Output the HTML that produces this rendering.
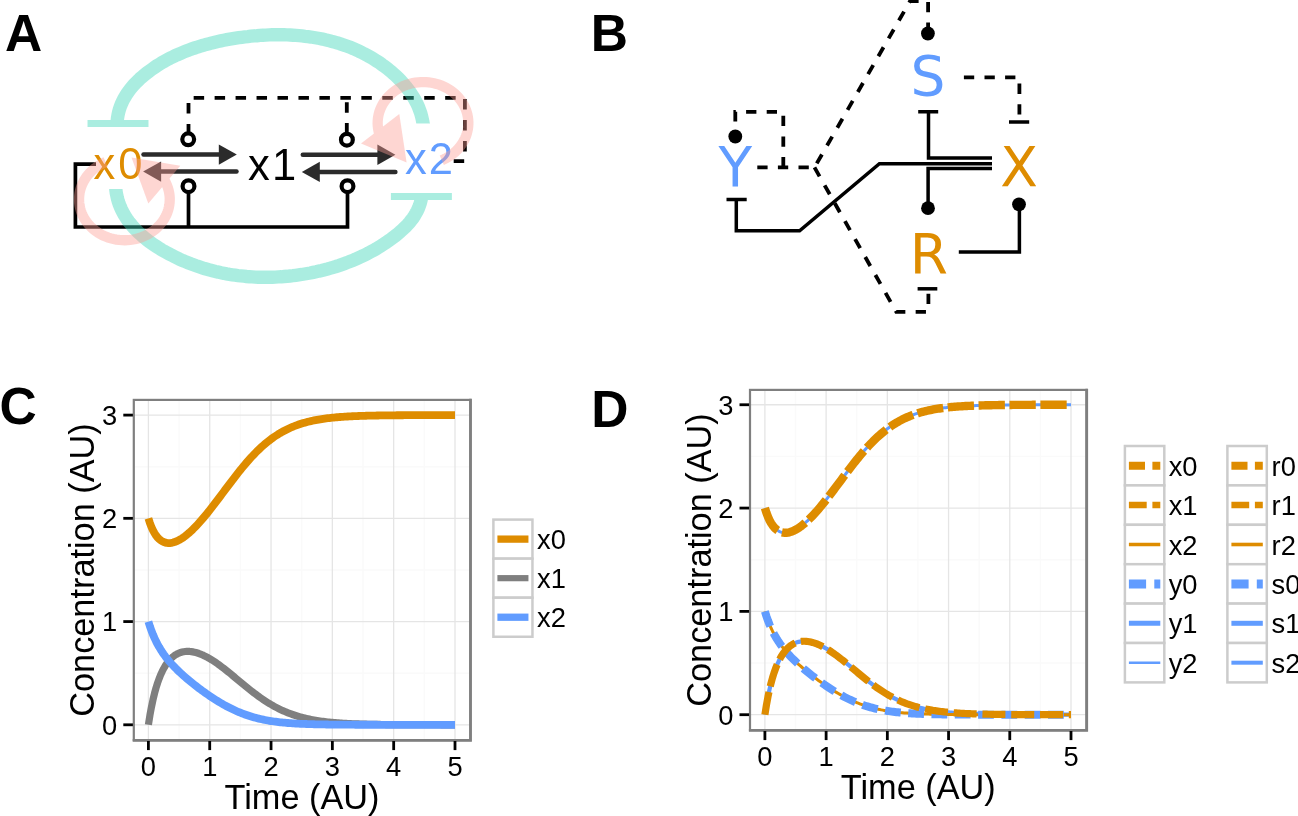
<!DOCTYPE html>
<html><head><meta charset="utf-8"><title>Figure</title>
<style>html,body{margin:0;padding:0;background:#fff}svg{display:block}</style></head><body>
<svg width="1298" height="816" viewBox="0 0 1298 816">
<rect width="1298" height="816" fill="#fff"/>
<defs><clipPath id="cpt"><rect x="0" y="0" width="520" height="123.6"/></clipPath>
<clipPath id="cpb"><path d="M0,188.9 H270 V196.6 H520 V330 H0 Z"/></clipPath></defs>
<text transform="translate(4.9,50.9) scale(1.03,1.045)" font-size="50" font-weight="bold" font-family="Liberation Sans, Arial, Helvetica, sans-serif">A</text>
<text transform="translate(590.8,50.9) scale(1.03,1.045)" font-size="50" font-weight="bold" font-family="Liberation Sans, Arial, Helvetica, sans-serif">B</text>
<text transform="translate(-0.5,423.6) scale(1.03,1.045)" font-size="50" font-weight="bold" font-family="Liberation Sans, Arial, Helvetica, sans-serif">C</text>
<text transform="translate(591.3,427.2) scale(1.03,1.045)" font-size="50" font-weight="bold" font-family="Liberation Sans, Arial, Helvetica, sans-serif">D</text>
<path d="M96,164.2 H75.4 V227 H347.5 V193" fill="none" stroke="#000" stroke-width="3.7"/>
<path d="M188.5,227 V193" fill="none" stroke="#000" stroke-width="3.7"/>
<path d="M453.7,161.2 H464.9 V97.8 H188.5 V133.2" fill="none" stroke="#000" stroke-width="3.8" stroke-dasharray="10.48 10.48"/>
<path d="M346.8,133.6 V97.8" fill="none" stroke="#000" stroke-width="3.8" stroke-dasharray="10.48 10.48"/>
<circle cx="188.2" cy="139.3" r="5.9" fill="#fff" stroke="#000" stroke-width="4.2"/>
<circle cx="346.9" cy="139.7" r="5.9" fill="#fff" stroke="#000" stroke-width="4.2"/>
<circle cx="188.5" cy="186.2" r="5.9" fill="#fff" stroke="#000" stroke-width="4.2"/>
<circle cx="347.5" cy="186.2" r="5.9" fill="#fff" stroke="#000" stroke-width="4.2"/>
<line x1="143.5" x2="220.8" y1="154.6" y2="154.6" stroke="#2B2B2B" stroke-width="4.5" stroke-linecap="round"/><polygon points="236.8,154.6 218.8,144.4 218.8,164.79999999999998" fill="#2B2B2B"/>
<line x1="236.5" x2="159.1" y1="171.6" y2="171.6" stroke="#2B2B2B" stroke-width="4.5" stroke-linecap="round"/><polygon points="143.1,171.6 161.1,161.4 161.1,181.79999999999998" fill="#2B2B2B"/>
<line x1="302.8" x2="379.4" y1="154.7" y2="154.7" stroke="#2B2B2B" stroke-width="4.5" stroke-linecap="round"/><polygon points="395.4,154.7 377.4,144.5 377.4,164.89999999999998" fill="#2B2B2B"/>
<line x1="395.4" x2="317.8" y1="171.9" y2="171.9" stroke="#2B2B2B" stroke-width="4.5" stroke-linecap="round"/><polygon points="301.8,171.9 319.8,161.70000000000002 319.8,182.1" fill="#2B2B2B"/>
<text x="93.4" y="179.3" font-size="43.5" letter-spacing="3" fill="#DE8C00" font-family="Liberation Sans, Arial, Helvetica, sans-serif">x0</text>
<text x="248" y="179.6" font-size="43.5" letter-spacing="2.2" fill="#000" font-family="Liberation Sans, Arial, Helvetica, sans-serif">x1</text>
<text x="404.9" y="174.1" font-size="43.5" letter-spacing="2.2" fill="#619CFF" font-family="Liberation Sans, Arial, Helvetica, sans-serif">x2</text>
<g opacity="0.43" fill="none" stroke="#3CD7B9"><path d="M118.7,140.4 L118.0,137.1 L117.5,133.8 L117.1,130.6 L117.0,127.4 L117.0,124.3 L117.2,121.2 L117.5,118.2 L118.0,115.2 L118.6,112.3 L119.4,109.5 L120.3,106.7 L121.4,104.0 L122.6,101.3 L123.9,98.7 L125.4,96.2 L126.9,93.8 L128.6,91.4 L130.3,89.1 L132.2,86.8 L134.1,84.6 L136.2,82.4 L138.3,80.4 L140.4,78.3 L142.7,76.4 L145.0,74.4 L147.3,72.6 L149.7,70.8 L152.1,69.1 L154.6,67.4 L157.0,65.7 L159.6,64.1 L162.1,62.6 L164.7,61.1 L167.3,59.7 L169.9,58.3 L172.6,57.0 L175.2,55.7 L178.0,54.5 L180.7,53.3 L183.4,52.1 L186.2,51.0 L189.0,49.9 L191.8,48.9 L194.6,48.0 L197.5,47.0 L200.4,46.1 L203.2,45.3 L206.1,44.4 L209.1,43.7 L212.0,42.9 L214.9,42.2 L217.9,41.5 L220.8,40.9 L223.8,40.3 L226.8,39.7 L229.8,39.2 L232.8,38.7 L235.8,38.2 L238.8,37.7 L241.8,37.3 L244.8,36.9 L247.8,36.6 L250.8,36.2 L253.9,35.9 L256.9,35.7 L259.9,35.4 L262.9,35.2 L266.0,35.1 L269.0,34.9 L272.0,34.8 L275.0,34.8 L278.0,34.8 L281.1,34.8 L284.1,34.8 L287.1,34.9 L290.1,35.0 L293.1,35.2 L296.0,35.4 L299.0,35.6 L302.0,35.9 L305.0,36.3 L307.9,36.6 L310.9,37.0 L313.8,37.5 L316.7,38.0 L319.6,38.5 L322.5,39.1 L325.4,39.8 L328.3,40.4 L331.2,41.2 L334.0,41.9 L336.9,42.8 L339.7,43.6 L342.5,44.6 L345.3,45.5 L348.0,46.5 L350.8,47.6 L353.5,48.7 L356.2,49.9 L358.9,51.1 L361.6,52.4 L364.2,53.8 L366.9,55.1 L369.5,56.6 L372.0,58.1 L374.6,59.6 L377.1,61.3 L379.7,62.9 L382.1,64.7 L384.6,66.4 L387.0,68.3 L389.4,70.2 L391.7,72.1 L394.0,74.1 L396.2,76.2 L398.4,78.3 L400.5,80.5 L402.6,82.7 L404.6,85.0 L406.5,87.3 L408.3,89.7 L410.1,92.1 L411.7,94.5 L413.3,97.1 L414.8,99.6 L416.2,102.2 L417.5,104.9 L418.7,107.6 L419.7,110.3 L420.7,113.1 L421.5,116.0 L422.2,118.9 L422.8,121.8 L423.3,124.7 L423.6,127.8 L423.8,130.8 L423.8,133.9 L423.7,137.0 L423.5,140.2" stroke-width="13.4" clip-path="url(#cpt)"/><path d="M87.5,123.5 H148.5" stroke-width="7"/></g>
<g opacity="0.43" fill="none" stroke="#3CD7B9"><path d="M116.0,174.7 L115.7,177.9 L115.5,181.0 L115.5,184.1 L115.7,187.2 L115.9,190.1 L116.3,193.1 L116.9,195.9 L117.5,198.7 L118.3,201.5 L119.2,204.1 L120.3,206.8 L121.4,209.3 L122.7,211.8 L124.0,214.3 L125.5,216.7 L127.0,219.1 L128.6,221.4 L130.4,223.6 L132.2,225.8 L134.1,227.9 L136.0,230.0 L138.1,232.1 L140.2,234.0 L142.3,236.0 L144.6,237.9 L146.8,239.7 L149.2,241.5 L151.6,243.2 L154.0,244.9 L156.5,246.5 L159.0,248.1 L161.5,249.7 L164.1,251.2 L166.7,252.6 L169.3,254.0 L171.9,255.4 L174.6,256.7 L177.2,258.0 L179.9,259.3 L182.6,260.5 L185.3,261.6 L188.0,262.7 L190.7,263.8 L193.4,264.8 L196.1,265.8 L198.8,266.7 L201.6,267.6 L204.3,268.5 L207.1,269.3 L209.9,270.1 L212.6,270.8 L215.4,271.5 L218.2,272.1 L221.0,272.8 L223.8,273.3 L226.6,273.9 L229.5,274.4 L232.3,274.8 L235.1,275.2 L238.0,275.6 L240.8,275.9 L243.7,276.2 L246.5,276.5 L249.4,276.7 L252.3,276.9 L255.2,277.1 L258.0,277.2 L260.9,277.3 L263.8,277.3 L266.7,277.3 L269.6,277.3 L272.5,277.2 L275.4,277.1 L278.3,276.9 L281.2,276.8 L284.1,276.5 L287.1,276.3 L290.0,276.0 L292.9,275.7 L295.8,275.3 L298.7,274.9 L301.6,274.5 L304.5,274.0 L307.4,273.5 L310.3,273.0 L313.2,272.4 L316.1,271.8 L319.0,271.1 L321.8,270.5 L324.7,269.7 L327.5,269.0 L330.4,268.2 L333.2,267.3 L336.0,266.5 L338.8,265.6 L341.6,264.6 L344.4,263.6 L347.1,262.6 L349.8,261.5 L352.6,260.4 L355.3,259.3 L357.9,258.1 L360.6,256.9 L363.2,255.7 L365.8,254.4 L368.4,253.1 L371.0,251.7 L373.5,250.3 L376.1,248.9 L378.5,247.4 L381.0,245.9 L383.4,244.3 L385.9,242.7 L388.2,241.1 L390.6,239.4 L392.9,237.7 L395.2,236.0 L397.4,234.2 L399.6,232.3 L401.7,230.4 L403.8,228.5 L405.8,226.5 L407.7,224.5 L409.6,222.4 L411.3,220.2 L413.0,218.0 L414.5,215.7 L415.9,213.3 L417.2,210.9 L418.4,208.3 L419.4,205.7 L420.3,203.1 L421.0,200.3 L421.6,197.5 L422.0,194.5 L422.2,191.5 L422.3,188.4 L422.2,185.1 L421.8,181.8" stroke-width="13.4" clip-path="url(#cpb)"/><path d="M390.9,196.5 H451.9" stroke-width="7"/></g>
<g opacity="0.415"><path d="M105.59,162.04 L103.08,163.16 L100.65,164.42 L98.30,165.81 L96.06,167.33 L93.93,168.97 L91.91,170.73 L90.02,172.60 L88.25,174.57 L86.63,176.63 L85.15,178.79 L83.82,181.02 L82.65,183.32 L81.63,185.68 L80.78,188.09 L80.10,190.55 L79.58,193.04 L79.24,195.55 L79.07,198.08 L79.07,200.61 L79.25,203.14 L79.60,205.65 L80.12,208.14 L80.81,210.59 L81.66,213.00 L82.68,215.36 L83.86,217.66 L85.20,219.89 L86.68,222.04 L88.31,224.10 L90.08,226.06 L91.97,227.93 L94.00,229.68 L96.13,231.32 L98.38,232.84 L100.73,234.23 L103.16,235.48 L105.68,236.60 L108.27,237.57 L110.92,238.40 L113.62,239.08 L116.36,239.60 L119.14,239.97 L121.93,240.19 L124.74,240.25 L127.54,240.15 L130.33,239.90 L133.10,239.49 L135.83,238.93 L138.52,238.21 L141.16,237.35 L143.73,236.34 L146.23,235.19 L148.65,233.91 L150.97,232.49 L153.19,230.94 L155.30,229.27 L157.29,227.49 L159.16,225.60 L160.89,223.61 L162.49,221.53 L163.94,219.36 L165.23,217.11 L166.38,214.80 L167.36,212.43 L168.17,210.01 L168.82,207.54 L169.30,205.05 L169.61,202.53 L169.74,200.00 L169.70,197.47 L169.49,194.94 L169.11,192.44 L168.55,189.95 L167.83,187.51 L166.94,185.11 L165.89,182.76 L164.67,180.47 L163.31,178.26 L161.79,176.13 L160.14,174.09" fill="none" stroke="#FD9D95" stroke-width="10.3"/><polygon points="131.5,157.5 180.3,165.8 148.3,203.4" fill="#FD9D95"/></g>
<g opacity="0.415"><path d="M441.81,160.26 L444.20,159.20 L446.52,158.01 L448.76,156.70 L450.90,155.28 L452.96,153.74 L454.91,152.10 L456.74,150.36 L458.47,148.52 L460.07,146.59 L461.54,144.59 L462.88,142.50 L464.08,140.35 L465.13,138.15 L466.05,135.88 L466.81,133.58 L467.42,131.23 L467.88,128.86 L468.19,126.47 L468.33,124.07 L468.33,121.66 L468.16,119.26 L467.84,116.87 L467.36,114.50 L466.73,112.16 L465.95,109.86 L465.02,107.60 L463.95,105.40 L462.73,103.26 L461.38,101.18 L459.89,99.18 L458.28,97.27 L456.54,95.44 L454.69,93.71 L452.73,92.08 L450.67,90.55 L448.51,89.14 L446.26,87.85 L443.93,86.67 L441.53,85.62 L439.07,84.71 L436.55,83.92 L433.98,83.27 L431.38,82.75 L428.74,82.38 L426.09,82.15 L423.43,82.05 L420.76,82.10 L418.10,82.29 L415.46,82.62 L412.85,83.09 L410.27,83.70 L407.73,84.44 L405.25,85.32 L402.83,86.32 L400.48,87.46 L398.20,88.71 L396.01,90.09 L393.92,91.58 L391.92,93.18 L390.04,94.88 L388.26,96.67 L386.61,98.56 L385.08,100.54 L383.69,102.59 L382.43,104.71 L381.31,106.89 L380.33,109.13 L379.50,111.42 L378.82,113.75 L378.30,116.11 L377.93,118.49 L377.71,120.89 L377.65,123.30 L377.75,125.71 L378.00,128.10 L378.41,130.48 L378.98,132.83 L379.69,135.15 L380.56,137.43 L381.57,139.66" fill="none" stroke="#FD9D95" stroke-width="10.3"/><polygon points="406.6,162.5 361,143.4 399.3,114" fill="#FD9D95"/></g>
<text x="718.4" y="185.5" font-size="55" fill="#619CFF" font-family="DejaVu Sans, Liberation Sans, sans-serif">Y</text>
<text x="910.6" y="95.4" font-size="55" fill="#619CFF" font-family="DejaVu Sans, Liberation Sans, sans-serif">S</text>
<text x="1000.2" y="186.2" font-size="55" fill="#DE8C00" font-family="DejaVu Sans, Liberation Sans, sans-serif">X</text>
<text x="909.7" y="273" font-size="55" fill="#DE8C00" font-family="DejaVu Sans, Liberation Sans, sans-serif">R</text>
<circle cx="735.3" cy="136.5" r="6.9" fill="#000"/>
<circle cx="927.9" cy="33.5" r="6.9" fill="#000"/>
<circle cx="928" cy="208.2" r="6.9" fill="#000"/>
<circle cx="1019" cy="204.3" r="6.9" fill="#000"/>
<path d="M726.5,199.6 H746.7 M736.3,199.6 V230.8 H799.6 L879.4,163.7 H992" fill="none" stroke="#000" stroke-width="3.5"/>
<path d="M918.2,111.8 H938.2 M928.5,111.8 V157.9 H992" fill="none" stroke="#000" stroke-width="3.5"/>
<path d="M928.1,208 V168.5 H992" fill="none" stroke="#000" stroke-width="3.5"/>
<path d="M1019.4,204 V252 H958.8" fill="none" stroke="#000" stroke-width="3.5"/>
<path d="M735.3,142.2 V111.8 H783.3 V167.5" fill="none" stroke="#000" stroke-width="3.8" stroke-dasharray="10.3 10.3"/>
<path d="M757.3,167.4 H814.5 L910,1.2 H928.1 V33" fill="none" stroke="#000" stroke-width="3.8" stroke-dasharray="10.3 10.3"/>
<path d="M814.5,167.4 L896.3,311.9 H928.4 V288.8" fill="none" stroke="#000" stroke-width="3.8" stroke-dasharray="10.3 10.3"/>
<path d="M917.6,288.8 H937.3" fill="none" stroke="#000" stroke-width="3.5"/>
<path d="M963.9,77.3 H1019.4 V122" fill="none" stroke="#000" stroke-width="3.8" stroke-dasharray="10.3 10.3"/>
<path d="M1009,122 H1029.2" fill="none" stroke="#000" stroke-width="3.5"/>
<rect x="133.8" y="399.9" width="336.5" height="340.2" fill="#fff"/>
<line x1="179.06" x2="179.06" y1="399.9" y2="740.0999999999999" stroke="#FAFAFA" stroke-width="1.4"/>
<line x1="240.38" x2="240.38" y1="399.9" y2="740.0999999999999" stroke="#FAFAFA" stroke-width="1.4"/>
<line x1="301.70" x2="301.70" y1="399.9" y2="740.0999999999999" stroke="#FAFAFA" stroke-width="1.4"/>
<line x1="363.02" x2="363.02" y1="399.9" y2="740.0999999999999" stroke="#FAFAFA" stroke-width="1.4"/>
<line x1="424.34" x2="424.34" y1="399.9" y2="740.0999999999999" stroke="#FAFAFA" stroke-width="1.4"/>
<line y1="673.18" y2="673.18" x1="133.8" x2="470.3" stroke="#FAFAFA" stroke-width="1.4"/>
<line y1="569.95" y2="569.95" x1="133.8" x2="470.3" stroke="#FAFAFA" stroke-width="1.4"/>
<line y1="466.72" y2="466.72" x1="133.8" x2="470.3" stroke="#FAFAFA" stroke-width="1.4"/>
<line x1="148.40" x2="148.40" y1="399.9" y2="740.0999999999999" stroke="#E5E5E5" stroke-width="1.3"/>
<line x1="209.72" x2="209.72" y1="399.9" y2="740.0999999999999" stroke="#E5E5E5" stroke-width="1.3"/>
<line x1="271.04" x2="271.04" y1="399.9" y2="740.0999999999999" stroke="#E5E5E5" stroke-width="1.3"/>
<line x1="332.36" x2="332.36" y1="399.9" y2="740.0999999999999" stroke="#E5E5E5" stroke-width="1.3"/>
<line x1="393.68" x2="393.68" y1="399.9" y2="740.0999999999999" stroke="#E5E5E5" stroke-width="1.3"/>
<line x1="455.00" x2="455.00" y1="399.9" y2="740.0999999999999" stroke="#E5E5E5" stroke-width="1.3"/>
<line y1="724.80" y2="724.80" x1="133.8" x2="470.3" stroke="#E5E5E5" stroke-width="1.3"/>
<line y1="621.57" y2="621.57" x1="133.8" x2="470.3" stroke="#E5E5E5" stroke-width="1.3"/>
<line y1="518.33" y2="518.33" x1="133.8" x2="470.3" stroke="#E5E5E5" stroke-width="1.3"/>
<line y1="415.10" y2="415.10" x1="133.8" x2="470.3" stroke="#E5E5E5" stroke-width="1.3"/>
<path d="M148.40,724.80 L149.93,715.20 L151.47,706.89 L153.00,699.66 L154.53,693.33 L156.06,687.78 L157.60,682.89 L159.13,678.59 L160.66,674.78 L162.20,671.42 L163.73,668.45 L165.26,665.82 L166.80,663.51 L168.33,661.47 L169.86,659.68 L171.40,658.12 L172.93,656.76 L174.46,655.59 L175.99,654.59 L177.53,653.75 L179.06,653.05 L180.59,652.49 L182.13,652.05 L183.66,651.73 L185.19,651.52 L186.73,651.41 L188.26,651.39 L189.79,651.46 L191.32,651.62 L192.86,651.85 L194.39,652.16 L195.92,652.55 L197.46,653.00 L198.99,653.51 L200.52,654.08 L202.06,654.72 L203.59,655.40 L205.12,656.14 L206.65,656.93 L208.19,657.77 L209.72,658.65 L211.25,659.57 L212.79,660.54 L214.32,661.53 L215.85,662.57 L217.39,663.64 L218.92,664.73 L220.45,665.86 L221.98,667.01 L223.52,668.19 L225.05,669.38 L226.58,670.59 L228.12,671.82 L229.65,673.07 L231.18,674.33 L232.72,675.59 L234.25,676.86 L235.78,678.14 L237.31,679.42 L238.85,680.70 L240.38,681.98 L241.91,683.25 L243.45,684.52 L244.98,685.78 L246.51,687.03 L248.05,688.27 L249.58,689.50 L251.11,690.71 L252.64,691.91 L254.18,693.08 L255.71,694.24 L257.24,695.38 L258.78,696.49 L260.31,697.58 L261.84,698.65 L263.38,699.70 L264.91,700.72 L266.44,701.71 L267.97,702.68 L269.51,703.62 L271.04,704.53 L272.57,705.42 L274.11,706.28 L275.64,707.11 L277.17,707.91 L278.71,708.69 L280.24,709.44 L281.77,710.16 L283.30,710.86 L284.84,711.53 L286.37,712.17 L287.90,712.79 L289.44,713.38 L290.97,713.95 L292.50,714.50 L294.04,715.02 L295.57,715.52 L297.10,716.00 L298.63,716.46 L300.17,716.90 L301.70,717.31 L303.23,717.71 L304.77,718.09 L306.30,718.45 L307.83,718.80 L309.37,719.12 L310.90,719.43 L312.43,719.73 L313.96,720.01 L315.50,720.28 L317.03,720.53 L318.56,720.77 L320.10,721.00 L321.63,721.21 L323.16,721.42 L324.70,721.61 L326.23,721.80 L327.76,721.97 L329.29,722.13 L330.83,722.29 L332.36,722.44 L333.89,722.57 L335.43,722.70 L336.96,722.83 L338.49,722.95 L340.03,723.06 L341.56,723.16 L343.09,723.26 L344.62,723.35 L346.16,723.44 L347.69,723.52 L349.22,723.60 L350.76,723.67 L352.29,723.74 L353.82,723.80 L355.36,723.86 L356.89,723.92 L358.42,723.97 L359.95,724.02 L361.49,724.07 L363.02,724.12 L364.55,724.16 L366.09,724.20 L367.62,724.24 L369.15,724.27 L370.69,724.30 L372.22,724.34 L373.75,724.36 L375.28,724.39 L376.82,724.42 L378.35,724.44 L379.88,724.46 L381.42,724.48 L382.95,724.50 L384.48,724.52 L386.02,724.54 L387.55,724.56 L389.08,724.57 L390.61,724.59 L392.15,724.60 L393.68,724.61 L395.21,724.63 L396.75,724.64 L398.28,724.65 L399.81,724.66 L401.35,724.67 L402.88,724.67 L404.41,724.68 L405.94,724.69 L407.48,724.70 L409.01,724.70 L410.54,724.71 L412.08,724.72 L413.61,724.72 L415.14,724.73 L416.68,724.73 L418.21,724.74 L419.74,724.74 L421.27,724.74 L422.81,724.75 L424.34,724.75 L425.87,724.75 L427.41,724.76 L428.94,724.76 L430.47,724.76 L432.00,724.76 L433.54,724.77 L435.07,724.77 L436.60,724.77 L438.14,724.77 L439.67,724.77 L441.20,724.78 L442.74,724.78 L444.27,724.78 L445.80,724.78 L447.34,724.78 L448.87,724.78 L450.40,724.78 L451.93,724.79 L453.47,724.79 L455.00,724.79" fill="none" stroke="#7F7F7F" stroke-width="7.2" stroke-linejoin="round"/>
<path d="M148.40,621.57 L149.93,626.43 L151.47,630.76 L153.00,634.65 L154.53,638.17 L156.06,641.38 L157.60,644.33 L159.13,647.06 L160.66,649.60 L162.20,651.97 L163.73,654.19 L165.26,656.29 L166.80,658.29 L168.33,660.18 L169.86,662.00 L171.40,663.73 L172.93,665.41 L174.46,667.02 L175.99,668.59 L177.53,670.10 L179.06,671.58 L180.59,673.02 L182.13,674.42 L183.66,675.79 L185.19,677.14 L186.73,678.46 L188.26,679.76 L189.79,681.03 L191.32,682.29 L192.86,683.52 L194.39,684.74 L195.92,685.93 L197.46,687.11 L198.99,688.28 L200.52,689.42 L202.06,690.55 L203.59,691.67 L205.12,692.77 L206.65,693.85 L208.19,694.91 L209.72,695.96 L211.25,696.98 L212.79,698.00 L214.32,698.99 L215.85,699.96 L217.39,700.92 L218.92,701.85 L220.45,702.77 L221.98,703.67 L223.52,704.54 L225.05,705.39 L226.58,706.23 L228.12,707.04 L229.65,707.83 L231.18,708.59 L232.72,709.34 L234.25,710.06 L235.78,710.76 L237.31,711.44 L238.85,712.09 L240.38,712.72 L241.91,713.33 L243.45,713.92 L244.98,714.48 L246.51,715.02 L248.05,715.54 L249.58,716.04 L251.11,716.52 L252.64,716.98 L254.18,717.42 L255.71,717.83 L257.24,718.23 L258.78,718.61 L260.31,718.97 L261.84,719.31 L263.38,719.64 L264.91,719.95 L266.44,720.24 L267.97,720.52 L269.51,720.79 L271.04,721.03 L272.57,721.27 L274.11,721.49 L275.64,721.70 L277.17,721.90 L278.71,722.09 L280.24,722.26 L281.77,722.43 L283.30,722.58 L284.84,722.73 L286.37,722.86 L287.90,722.99 L289.44,723.11 L290.97,723.22 L292.50,723.33 L294.04,723.43 L295.57,723.52 L297.10,723.61 L298.63,723.69 L300.17,723.77 L301.70,723.84 L303.23,723.90 L304.77,723.96 L306.30,724.02 L307.83,724.08 L309.37,724.13 L310.90,724.17 L312.43,724.22 L313.96,724.26 L315.50,724.30 L317.03,724.33 L318.56,724.36 L320.10,724.40 L321.63,724.42 L323.16,724.45 L324.70,724.47 L326.23,724.50 L327.76,724.52 L329.29,724.54 L330.83,724.56 L332.36,724.57 L333.89,724.59 L335.43,724.61 L336.96,724.62 L338.49,724.63 L340.03,724.64 L341.56,724.66 L343.09,724.67 L344.62,724.68 L346.16,724.68 L347.69,724.69 L349.22,724.70 L350.76,724.71 L352.29,724.71 L353.82,724.72 L355.36,724.73 L356.89,724.73 L358.42,724.74 L359.95,724.74 L361.49,724.75 L363.02,724.75 L364.55,724.75 L366.09,724.76 L367.62,724.76 L369.15,724.76 L370.69,724.76 L372.22,724.77 L373.75,724.77 L375.28,724.77 L376.82,724.77 L378.35,724.78 L379.88,724.78 L381.42,724.78 L382.95,724.78 L384.48,724.78 L386.02,724.78 L387.55,724.78 L389.08,724.79 L390.61,724.79 L392.15,724.79 L393.68,724.79 L395.21,724.79 L396.75,724.79 L398.28,724.79 L399.81,724.79 L401.35,724.79 L402.88,724.79 L404.41,724.79 L405.94,724.79 L407.48,724.79 L409.01,724.79 L410.54,724.79 L412.08,724.80 L413.61,724.80 L415.14,724.80 L416.68,724.80 L418.21,724.80 L419.74,724.80 L421.27,724.80 L422.81,724.80 L424.34,724.80 L425.87,724.80 L427.41,724.80 L428.94,724.80 L430.47,724.80 L432.00,724.80 L433.54,724.80 L435.07,724.80 L436.60,724.80 L438.14,724.80 L439.67,724.80 L441.20,724.80 L442.74,724.80 L444.27,724.80 L445.80,724.80 L447.34,724.80 L448.87,724.80 L450.40,724.80 L451.93,724.80 L453.47,724.80 L455.00,724.80" fill="none" stroke="#619CFF" stroke-width="7.8" stroke-linejoin="round"/>
<path d="M148.40,518.33 L149.93,523.07 L151.47,527.05 L153.00,530.40 L154.53,533.20 L156.06,535.54 L157.60,537.47 L159.13,539.05 L160.66,540.32 L162.20,541.31 L163.73,542.06 L165.26,542.58 L166.80,542.91 L168.33,543.05 L169.86,543.03 L171.40,542.85 L172.93,542.53 L174.46,542.09 L175.99,541.53 L177.53,540.85 L179.06,540.07 L180.59,539.19 L182.13,538.23 L183.66,537.17 L185.19,536.04 L186.73,534.83 L188.26,533.55 L189.79,532.21 L191.32,530.80 L192.86,529.33 L194.39,527.80 L195.92,526.22 L197.46,524.59 L198.99,522.91 L200.52,521.19 L202.06,519.43 L203.59,517.63 L205.12,515.79 L206.65,513.92 L208.19,512.02 L209.72,510.09 L211.25,508.14 L212.79,506.17 L214.32,504.18 L215.85,502.17 L217.39,500.15 L218.92,498.11 L220.45,496.07 L221.98,494.02 L223.52,491.97 L225.05,489.93 L226.58,487.88 L228.12,485.84 L229.65,483.80 L231.18,481.78 L232.72,479.77 L234.25,477.78 L235.78,475.80 L237.31,473.84 L238.85,471.91 L240.38,470.00 L241.91,468.12 L243.45,466.26 L244.98,464.44 L246.51,462.64 L248.05,460.88 L249.58,459.16 L251.11,457.47 L252.64,455.82 L254.18,454.20 L255.71,452.63 L257.24,451.09 L258.78,449.60 L260.31,448.14 L261.84,446.73 L263.38,445.36 L264.91,444.03 L266.44,442.75 L267.97,441.50 L269.51,440.30 L271.04,439.14 L272.57,438.01 L274.11,436.93 L275.64,435.89 L277.17,434.89 L278.71,433.93 L280.24,433.00 L281.77,432.12 L283.30,431.26 L284.84,430.45 L286.37,429.67 L287.90,428.92 L289.44,428.20 L290.97,427.52 L292.50,426.87 L294.04,426.25 L295.57,425.65 L297.10,425.09 L298.63,424.55 L300.17,424.04 L301.70,423.55 L303.23,423.08 L304.77,422.64 L306.30,422.22 L307.83,421.83 L309.37,421.45 L310.90,421.09 L312.43,420.75 L313.96,420.43 L315.50,420.13 L317.03,419.84 L318.56,419.56 L320.10,419.31 L321.63,419.06 L323.16,418.83 L324.70,418.61 L326.23,418.41 L327.76,418.21 L329.29,418.03 L330.83,417.85 L332.36,417.69 L333.89,417.54 L335.43,417.39 L336.96,417.25 L338.49,417.12 L340.03,417.00 L341.56,416.89 L343.09,416.78 L344.62,416.67 L346.16,416.58 L347.69,416.49 L349.22,416.40 L350.76,416.32 L352.29,416.25 L353.82,416.18 L355.36,416.11 L356.89,416.05 L358.42,415.99 L359.95,415.93 L361.49,415.88 L363.02,415.83 L364.55,415.79 L366.09,415.74 L367.62,415.70 L369.15,415.67 L370.69,415.63 L372.22,415.60 L373.75,415.57 L375.28,415.54 L376.82,415.51 L378.35,415.48 L379.88,415.46 L381.42,415.44 L382.95,415.41 L384.48,415.39 L386.02,415.38 L387.55,415.36 L389.08,415.34 L390.61,415.33 L392.15,415.31 L393.68,415.30 L395.21,415.29 L396.75,415.27 L398.28,415.26 L399.81,415.25 L401.35,415.24 L402.88,415.23 L404.41,415.22 L405.94,415.22 L407.48,415.21 L409.01,415.20 L410.54,415.20 L412.08,415.19 L413.61,415.18 L415.14,415.18 L416.68,415.17 L418.21,415.17 L419.74,415.16 L421.27,415.16 L422.81,415.16 L424.34,415.15 L425.87,415.15 L427.41,415.15 L428.94,415.14 L430.47,415.14 L432.00,415.14 L433.54,415.13 L435.07,415.13 L436.60,415.13 L438.14,415.13 L439.67,415.13 L441.20,415.12 L442.74,415.12 L444.27,415.12 L445.80,415.12 L447.34,415.12 L448.87,415.12 L450.40,415.12 L451.93,415.12 L453.47,415.11 L455.00,415.11" fill="none" stroke="#DE8C00" stroke-width="7.8" stroke-linejoin="round"/>
<rect x="133.8" y="399.9" width="336.5" height="340.2" fill="none" stroke="#7F7F7F" stroke-width="2.2"/>
<path d="M470.55,398.79999999999995 V741.5999999999999 M132.70000000000002,740.3499999999999 H471.90000000000003" fill="none" stroke="#7F7F7F" stroke-width="2.7"/>
<line x1="148.40" x2="148.40" y1="740.9999999999999" y2="750.0999999999999" stroke="#000" stroke-width="2.8"/>
<text transform="translate(148.40,776.10) scale(1,1.045)" text-anchor="middle" font-size="27.3" font-family="Liberation Sans, Arial, Helvetica, sans-serif">0</text>
<line x1="209.72" x2="209.72" y1="740.9999999999999" y2="750.0999999999999" stroke="#000" stroke-width="2.8"/>
<text transform="translate(209.72,776.10) scale(1,1.045)" text-anchor="middle" font-size="27.3" font-family="Liberation Sans, Arial, Helvetica, sans-serif">1</text>
<line x1="271.04" x2="271.04" y1="740.9999999999999" y2="750.0999999999999" stroke="#000" stroke-width="2.8"/>
<text transform="translate(271.04,776.10) scale(1,1.045)" text-anchor="middle" font-size="27.3" font-family="Liberation Sans, Arial, Helvetica, sans-serif">2</text>
<line x1="332.36" x2="332.36" y1="740.9999999999999" y2="750.0999999999999" stroke="#000" stroke-width="2.8"/>
<text transform="translate(332.36,776.10) scale(1,1.045)" text-anchor="middle" font-size="27.3" font-family="Liberation Sans, Arial, Helvetica, sans-serif">3</text>
<line x1="393.68" x2="393.68" y1="740.9999999999999" y2="750.0999999999999" stroke="#000" stroke-width="2.8"/>
<text transform="translate(393.68,776.10) scale(1,1.045)" text-anchor="middle" font-size="27.3" font-family="Liberation Sans, Arial, Helvetica, sans-serif">4</text>
<line x1="455.00" x2="455.00" y1="740.9999999999999" y2="750.0999999999999" stroke="#000" stroke-width="2.8"/>
<text transform="translate(455.00,776.10) scale(1,1.045)" text-anchor="middle" font-size="27.3" font-family="Liberation Sans, Arial, Helvetica, sans-serif">5</text>
<line y1="724.80" y2="724.80" x1="123.30000000000001" x2="132.9" stroke="#000" stroke-width="2.8"/>
<text transform="translate(117.30,734.70) scale(1,1.045)" text-anchor="end" font-size="27.3" font-family="Liberation Sans, Arial, Helvetica, sans-serif">0</text>
<line y1="621.57" y2="621.57" x1="123.30000000000001" x2="132.9" stroke="#000" stroke-width="2.8"/>
<text transform="translate(117.30,631.47) scale(1,1.045)" text-anchor="end" font-size="27.3" font-family="Liberation Sans, Arial, Helvetica, sans-serif">1</text>
<line y1="518.33" y2="518.33" x1="123.30000000000001" x2="132.9" stroke="#000" stroke-width="2.8"/>
<text transform="translate(117.30,528.23) scale(1,1.045)" text-anchor="end" font-size="27.3" font-family="Liberation Sans, Arial, Helvetica, sans-serif">2</text>
<line y1="415.10" y2="415.10" x1="123.30000000000001" x2="132.9" stroke="#000" stroke-width="2.8"/>
<text transform="translate(117.30,425.00) scale(1,1.045)" text-anchor="end" font-size="27.3" font-family="Liberation Sans, Arial, Helvetica, sans-serif">3</text>
<text transform="translate(302.05,808.70) scale(1,1.045)" text-anchor="middle" font-size="34.3" font-family="Liberation Sans, Arial, Helvetica, sans-serif">Time (AU)</text>
<text transform="translate(94.40,570.00) rotate(-90) scale(1,1.045)" text-anchor="middle" font-size="34.3" font-family="Liberation Sans, Arial, Helvetica, sans-serif">Concentration (AU)</text>
<rect x="493.40" y="519.60" width="39.05" height="39.05" fill="#fff" stroke="#CCCCCC" stroke-width="2.5"/>
<rect x="493.40" y="558.65" width="39.05" height="39.05" fill="#fff" stroke="#CCCCCC" stroke-width="2.5"/>
<rect x="493.40" y="597.70" width="39.05" height="39.05" fill="#fff" stroke="#CCCCCC" stroke-width="2.5"/>
<line x1="497.40" x2="528.45" y1="539.12" y2="539.12" stroke="#DE8C00" stroke-width="7.3"/>
<text transform="translate(537.00,549.12) scale(1,1.045)" font-size="27.3" font-family="Liberation Sans, Arial, Helvetica, sans-serif">x0</text>
<line x1="497.40" x2="528.45" y1="578.17" y2="578.17" stroke="#7F7F7F" stroke-width="6.2"/>
<text transform="translate(537.00,588.17) scale(1,1.045)" font-size="27.3" font-family="Liberation Sans, Arial, Helvetica, sans-serif">x1</text>
<line x1="497.40" x2="528.45" y1="617.23" y2="617.23" stroke="#619CFF" stroke-width="7.3"/>
<text transform="translate(537.00,627.23) scale(1,1.045)" font-size="27.3" font-family="Liberation Sans, Arial, Helvetica, sans-serif">x2</text>
<rect x="750.0" y="389.9" width="336.5" height="340.2" fill="#fff"/>
<line x1="795.51" x2="795.51" y1="389.9" y2="730.0999999999999" stroke="#FAFAFA" stroke-width="1.4"/>
<line x1="856.73" x2="856.73" y1="389.9" y2="730.0999999999999" stroke="#FAFAFA" stroke-width="1.4"/>
<line x1="917.95" x2="917.95" y1="389.9" y2="730.0999999999999" stroke="#FAFAFA" stroke-width="1.4"/>
<line x1="979.17" x2="979.17" y1="389.9" y2="730.0999999999999" stroke="#FAFAFA" stroke-width="1.4"/>
<line x1="1040.39" x2="1040.39" y1="389.9" y2="730.0999999999999" stroke="#FAFAFA" stroke-width="1.4"/>
<line y1="663.04" y2="663.04" x1="750.0" x2="1086.5" stroke="#FAFAFA" stroke-width="1.4"/>
<line y1="559.73" y2="559.73" x1="750.0" x2="1086.5" stroke="#FAFAFA" stroke-width="1.4"/>
<line y1="456.41" y2="456.41" x1="750.0" x2="1086.5" stroke="#FAFAFA" stroke-width="1.4"/>
<line x1="764.90" x2="764.90" y1="389.9" y2="730.0999999999999" stroke="#E5E5E5" stroke-width="1.3"/>
<line x1="826.12" x2="826.12" y1="389.9" y2="730.0999999999999" stroke="#E5E5E5" stroke-width="1.3"/>
<line x1="887.34" x2="887.34" y1="389.9" y2="730.0999999999999" stroke="#E5E5E5" stroke-width="1.3"/>
<line x1="948.56" x2="948.56" y1="389.9" y2="730.0999999999999" stroke="#E5E5E5" stroke-width="1.3"/>
<line x1="1009.78" x2="1009.78" y1="389.9" y2="730.0999999999999" stroke="#E5E5E5" stroke-width="1.3"/>
<line x1="1071.00" x2="1071.00" y1="389.9" y2="730.0999999999999" stroke="#E5E5E5" stroke-width="1.3"/>
<line y1="714.70" y2="714.70" x1="750.0" x2="1086.5" stroke="#E5E5E5" stroke-width="1.3"/>
<line y1="611.38" y2="611.38" x1="750.0" x2="1086.5" stroke="#E5E5E5" stroke-width="1.3"/>
<line y1="508.07" y2="508.07" x1="750.0" x2="1086.5" stroke="#E5E5E5" stroke-width="1.3"/>
<line y1="404.75" y2="404.75" x1="750.0" x2="1086.5" stroke="#E5E5E5" stroke-width="1.3"/>
<path d="M764.90,714.70 L766.43,705.10 L767.96,696.78 L769.49,689.54 L771.02,683.21 L772.55,677.65 L774.08,672.76 L775.61,668.45 L777.14,664.64 L778.67,661.28 L780.20,658.30 L781.74,655.67 L783.27,653.36 L784.80,651.32 L786.33,649.53 L787.86,647.96 L789.39,646.60 L790.92,645.43 L792.45,644.43 L793.98,643.59 L795.51,642.89 L797.04,642.33 L798.57,641.89 L800.10,641.57 L801.63,641.36 L803.16,641.25 L804.69,641.23 L806.22,641.30 L807.75,641.46 L809.28,641.69 L810.81,642.01 L812.35,642.39 L813.88,642.84 L815.41,643.35 L816.94,643.93 L818.47,644.56 L820.00,645.25 L821.53,645.99 L823.06,646.78 L824.59,647.62 L826.12,648.50 L827.65,649.42 L829.18,650.38 L830.71,651.38 L832.24,652.42 L833.77,653.49 L835.30,654.59 L836.83,655.71 L838.36,656.86 L839.89,658.04 L841.42,659.24 L842.96,660.45 L844.49,661.68 L846.02,662.93 L847.55,664.18 L849.08,665.45 L850.61,666.72 L852.14,668.00 L853.67,669.28 L855.20,670.57 L856.73,671.84 L858.26,673.12 L859.79,674.39 L861.32,675.65 L862.85,676.90 L864.38,678.14 L865.91,679.37 L867.44,680.58 L868.97,681.78 L870.50,682.96 L872.03,684.12 L873.57,685.25 L875.10,686.37 L876.63,687.46 L878.16,688.53 L879.69,689.58 L881.22,690.60 L882.75,691.59 L884.28,692.56 L885.81,693.50 L887.34,694.41 L888.87,695.30 L890.40,696.16 L891.93,696.99 L893.46,697.80 L894.99,698.57 L896.52,699.32 L898.05,700.05 L899.58,700.74 L901.11,701.42 L902.64,702.06 L904.18,702.68 L905.71,703.27 L907.24,703.85 L908.77,704.39 L910.30,704.92 L911.83,705.42 L913.36,705.90 L914.89,706.35 L916.42,706.79 L917.95,707.21 L919.48,707.61 L921.01,707.99 L922.54,708.35 L924.07,708.69 L925.60,709.02 L927.13,709.33 L928.66,709.63 L930.19,709.91 L931.72,710.17 L933.25,710.43 L934.79,710.67 L936.32,710.90 L937.85,711.11 L939.38,711.32 L940.91,711.51 L942.44,711.69 L943.97,711.87 L945.50,712.03 L947.03,712.19 L948.56,712.33 L950.09,712.47 L951.62,712.60 L953.15,712.73 L954.68,712.84 L956.21,712.95 L957.74,713.06 L959.27,713.16 L960.80,713.25 L962.33,713.34 L963.87,713.42 L965.40,713.50 L966.93,713.57 L968.46,713.64 L969.99,713.70 L971.52,713.76 L973.05,713.82 L974.58,713.87 L976.11,713.92 L977.64,713.97 L979.17,714.02 L980.70,714.06 L982.23,714.10 L983.76,714.14 L985.29,714.17 L986.82,714.20 L988.35,714.23 L989.88,714.26 L991.41,714.29 L992.94,714.32 L994.48,714.34 L996.01,714.36 L997.54,714.38 L999.07,714.40 L1000.60,714.42 L1002.13,714.44 L1003.66,714.46 L1005.19,714.47 L1006.72,714.49 L1008.25,714.50 L1009.78,714.51 L1011.31,714.53 L1012.84,714.54 L1014.37,714.55 L1015.90,714.56 L1017.43,714.57 L1018.96,714.57 L1020.49,714.58 L1022.02,714.59 L1023.55,714.60 L1025.09,714.60 L1026.62,714.61 L1028.15,714.62 L1029.68,714.62 L1031.21,714.63 L1032.74,714.63 L1034.27,714.64 L1035.80,714.64 L1037.33,714.64 L1038.86,714.65 L1040.39,714.65 L1041.92,714.65 L1043.45,714.66 L1044.98,714.66 L1046.51,714.66 L1048.04,714.66 L1049.57,714.67 L1051.10,714.67 L1052.63,714.67 L1054.16,714.67 L1055.69,714.67 L1057.23,714.68 L1058.76,714.68 L1060.29,714.68 L1061.82,714.68 L1063.35,714.68 L1064.88,714.68 L1066.41,714.68 L1067.94,714.69 L1069.47,714.69 L1071.00,714.69" fill="none" stroke="#619CFF" stroke-width="4.2" stroke-linejoin="round"/>
<path d="M764.90,611.38 L766.43,616.25 L767.96,620.58 L769.49,624.47 L771.02,628.00 L772.55,631.21 L774.08,634.17 L775.61,636.90 L777.14,639.44 L778.67,641.81 L780.20,644.04 L781.74,646.14 L783.27,648.13 L784.80,650.03 L786.33,651.85 L787.86,653.59 L789.39,655.26 L790.92,656.88 L792.45,658.44 L793.98,659.96 L795.51,661.44 L797.04,662.87 L798.57,664.28 L800.10,665.66 L801.63,667.00 L803.16,668.32 L804.69,669.62 L806.22,670.90 L807.75,672.15 L809.28,673.39 L810.81,674.60 L812.35,675.80 L813.88,676.98 L815.41,678.15 L816.94,679.30 L818.47,680.43 L820.00,681.54 L821.53,682.64 L823.06,683.72 L824.59,684.79 L826.12,685.83 L827.65,686.86 L829.18,687.87 L830.71,688.87 L832.24,689.84 L833.77,690.80 L835.30,691.74 L836.83,692.65 L838.36,693.55 L839.89,694.42 L841.42,695.28 L842.96,696.11 L844.49,696.92 L846.02,697.71 L847.55,698.48 L849.08,699.23 L850.61,699.95 L852.14,700.65 L853.67,701.33 L855.20,701.98 L856.73,702.61 L858.26,703.22 L859.79,703.81 L861.32,704.37 L862.85,704.92 L864.38,705.44 L865.91,705.94 L867.44,706.41 L868.97,706.87 L870.50,707.31 L872.03,707.73 L873.57,708.13 L875.10,708.51 L876.63,708.87 L878.16,709.21 L879.69,709.54 L881.22,709.85 L882.75,710.14 L884.28,710.42 L885.81,710.68 L887.34,710.93 L888.87,711.17 L890.40,711.39 L891.93,711.60 L893.46,711.80 L894.99,711.98 L896.52,712.16 L898.05,712.32 L899.58,712.48 L901.11,712.62 L902.64,712.76 L904.18,712.89 L905.71,713.01 L907.24,713.12 L908.77,713.23 L910.30,713.33 L911.83,713.42 L913.36,713.51 L914.89,713.59 L916.42,713.67 L917.95,713.74 L919.48,713.80 L921.01,713.86 L922.54,713.92 L924.07,713.98 L925.60,714.03 L927.13,714.07 L928.66,714.12 L930.19,714.16 L931.72,714.20 L933.25,714.23 L934.79,714.26 L936.32,714.29 L937.85,714.32 L939.38,714.35 L940.91,714.37 L942.44,714.40 L943.97,714.42 L945.50,714.44 L947.03,714.46 L948.56,714.47 L950.09,714.49 L951.62,714.51 L953.15,714.52 L954.68,714.53 L956.21,714.54 L957.74,714.56 L959.27,714.57 L960.80,714.58 L962.33,714.58 L963.87,714.59 L965.40,714.60 L966.93,714.61 L968.46,714.61 L969.99,714.62 L971.52,714.63 L973.05,714.63 L974.58,714.64 L976.11,714.64 L977.64,714.65 L979.17,714.65 L980.70,714.65 L982.23,714.66 L983.76,714.66 L985.29,714.66 L986.82,714.66 L988.35,714.67 L989.88,714.67 L991.41,714.67 L992.94,714.67 L994.48,714.68 L996.01,714.68 L997.54,714.68 L999.07,714.68 L1000.60,714.68 L1002.13,714.68 L1003.66,714.68 L1005.19,714.69 L1006.72,714.69 L1008.25,714.69 L1009.78,714.69 L1011.31,714.69 L1012.84,714.69 L1014.37,714.69 L1015.90,714.69 L1017.43,714.69 L1018.96,714.69 L1020.49,714.69 L1022.02,714.69 L1023.55,714.69 L1025.09,714.69 L1026.62,714.69 L1028.15,714.70 L1029.68,714.70 L1031.21,714.70 L1032.74,714.70 L1034.27,714.70 L1035.80,714.70 L1037.33,714.70 L1038.86,714.70 L1040.39,714.70 L1041.92,714.70 L1043.45,714.70 L1044.98,714.70 L1046.51,714.70 L1048.04,714.70 L1049.57,714.70 L1051.10,714.70 L1052.63,714.70 L1054.16,714.70 L1055.69,714.70 L1057.23,714.70 L1058.76,714.70 L1060.29,714.70 L1061.82,714.70 L1063.35,714.70 L1064.88,714.70 L1066.41,714.70 L1067.94,714.70 L1069.47,714.70 L1071.00,714.70" fill="none" stroke="#DE8C00" stroke-width="3" stroke-linejoin="round"/>
<path d="M764.90,611.38 L766.43,616.25 L767.96,620.58 L769.49,624.47 L771.02,628.00 L772.55,631.21 L774.08,634.17 L775.61,636.90 L777.14,639.44 L778.67,641.81 L780.20,644.04 L781.74,646.14 L783.27,648.13 L784.80,650.03 L786.33,651.85 L787.86,653.59 L789.39,655.26 L790.92,656.88 L792.45,658.44 L793.98,659.96 L795.51,661.44 L797.04,662.87 L798.57,664.28 L800.10,665.66 L801.63,667.00 L803.16,668.32 L804.69,669.62 L806.22,670.90 L807.75,672.15 L809.28,673.39 L810.81,674.60 L812.35,675.80 L813.88,676.98 L815.41,678.15 L816.94,679.30 L818.47,680.43 L820.00,681.54 L821.53,682.64 L823.06,683.72 L824.59,684.79 L826.12,685.83 L827.65,686.86 L829.18,687.87 L830.71,688.87 L832.24,689.84 L833.77,690.80 L835.30,691.74 L836.83,692.65 L838.36,693.55 L839.89,694.42 L841.42,695.28 L842.96,696.11 L844.49,696.92 L846.02,697.71 L847.55,698.48 L849.08,699.23 L850.61,699.95 L852.14,700.65 L853.67,701.33 L855.20,701.98 L856.73,702.61 L858.26,703.22 L859.79,703.81 L861.32,704.37 L862.85,704.92 L864.38,705.44 L865.91,705.94 L867.44,706.41 L868.97,706.87 L870.50,707.31 L872.03,707.73 L873.57,708.13 L875.10,708.51 L876.63,708.87 L878.16,709.21 L879.69,709.54 L881.22,709.85 L882.75,710.14 L884.28,710.42 L885.81,710.68 L887.34,710.93 L888.87,711.17 L890.40,711.39 L891.93,711.60 L893.46,711.80 L894.99,711.98 L896.52,712.16 L898.05,712.32 L899.58,712.48 L901.11,712.62 L902.64,712.76 L904.18,712.89 L905.71,713.01 L907.24,713.12 L908.77,713.23 L910.30,713.33 L911.83,713.42 L913.36,713.51 L914.89,713.59 L916.42,713.67 L917.95,713.74 L919.48,713.80 L921.01,713.86 L922.54,713.92 L924.07,713.98 L925.60,714.03 L927.13,714.07 L928.66,714.12 L930.19,714.16 L931.72,714.20 L933.25,714.23 L934.79,714.26 L936.32,714.29 L937.85,714.32 L939.38,714.35 L940.91,714.37 L942.44,714.40 L943.97,714.42 L945.50,714.44 L947.03,714.46 L948.56,714.47 L950.09,714.49 L951.62,714.51 L953.15,714.52 L954.68,714.53 L956.21,714.54 L957.74,714.56 L959.27,714.57 L960.80,714.58 L962.33,714.58 L963.87,714.59 L965.40,714.60 L966.93,714.61 L968.46,714.61 L969.99,714.62 L971.52,714.63 L973.05,714.63 L974.58,714.64 L976.11,714.64 L977.64,714.65 L979.17,714.65 L980.70,714.65 L982.23,714.66 L983.76,714.66 L985.29,714.66 L986.82,714.66 L988.35,714.67 L989.88,714.67 L991.41,714.67 L992.94,714.67 L994.48,714.68 L996.01,714.68 L997.54,714.68 L999.07,714.68 L1000.60,714.68 L1002.13,714.68 L1003.66,714.68 L1005.19,714.69 L1006.72,714.69 L1008.25,714.69 L1009.78,714.69 L1011.31,714.69 L1012.84,714.69 L1014.37,714.69 L1015.90,714.69 L1017.43,714.69 L1018.96,714.69 L1020.49,714.69 L1022.02,714.69 L1023.55,714.69 L1025.09,714.69 L1026.62,714.69 L1028.15,714.70 L1029.68,714.70 L1031.21,714.70 L1032.74,714.70 L1034.27,714.70 L1035.80,714.70 L1037.33,714.70 L1038.86,714.70 L1040.39,714.70 L1041.92,714.70 L1043.45,714.70 L1044.98,714.70 L1046.51,714.70 L1048.04,714.70 L1049.57,714.70 L1051.10,714.70 L1052.63,714.70 L1054.16,714.70 L1055.69,714.70 L1057.23,714.70 L1058.76,714.70 L1060.29,714.70 L1061.82,714.70 L1063.35,714.70 L1064.88,714.70 L1066.41,714.70 L1067.94,714.70 L1069.47,714.70 L1071.00,714.70" fill="none" stroke="#619CFF" stroke-width="8" stroke-linejoin="round" stroke-dasharray="15.8 7.5"/>
<path d="M764.90,714.70 L766.43,705.10 L767.96,696.78 L769.49,689.54 L771.02,683.21 L772.55,677.65 L774.08,672.76 L775.61,668.45 L777.14,664.64 L778.67,661.28 L780.20,658.30 L781.74,655.67 L783.27,653.36 L784.80,651.32 L786.33,649.53 L787.86,647.96 L789.39,646.60 L790.92,645.43 L792.45,644.43 L793.98,643.59 L795.51,642.89 L797.04,642.33 L798.57,641.89 L800.10,641.57 L801.63,641.36 L803.16,641.25 L804.69,641.23 L806.22,641.30 L807.75,641.46 L809.28,641.69 L810.81,642.01 L812.35,642.39 L813.88,642.84 L815.41,643.35 L816.94,643.93 L818.47,644.56 L820.00,645.25 L821.53,645.99 L823.06,646.78 L824.59,647.62 L826.12,648.50 L827.65,649.42 L829.18,650.38 L830.71,651.38 L832.24,652.42 L833.77,653.49 L835.30,654.59 L836.83,655.71 L838.36,656.86 L839.89,658.04 L841.42,659.24 L842.96,660.45 L844.49,661.68 L846.02,662.93 L847.55,664.18 L849.08,665.45 L850.61,666.72 L852.14,668.00 L853.67,669.28 L855.20,670.57 L856.73,671.84 L858.26,673.12 L859.79,674.39 L861.32,675.65 L862.85,676.90 L864.38,678.14 L865.91,679.37 L867.44,680.58 L868.97,681.78 L870.50,682.96 L872.03,684.12 L873.57,685.25 L875.10,686.37 L876.63,687.46 L878.16,688.53 L879.69,689.58 L881.22,690.60 L882.75,691.59 L884.28,692.56 L885.81,693.50 L887.34,694.41 L888.87,695.30 L890.40,696.16 L891.93,696.99 L893.46,697.80 L894.99,698.57 L896.52,699.32 L898.05,700.05 L899.58,700.74 L901.11,701.42 L902.64,702.06 L904.18,702.68 L905.71,703.27 L907.24,703.85 L908.77,704.39 L910.30,704.92 L911.83,705.42 L913.36,705.90 L914.89,706.35 L916.42,706.79 L917.95,707.21 L919.48,707.61 L921.01,707.99 L922.54,708.35 L924.07,708.69 L925.60,709.02 L927.13,709.33 L928.66,709.63 L930.19,709.91 L931.72,710.17 L933.25,710.43 L934.79,710.67 L936.32,710.90 L937.85,711.11 L939.38,711.32 L940.91,711.51 L942.44,711.69 L943.97,711.87 L945.50,712.03 L947.03,712.19 L948.56,712.33 L950.09,712.47 L951.62,712.60 L953.15,712.73 L954.68,712.84 L956.21,712.95 L957.74,713.06 L959.27,713.16 L960.80,713.25 L962.33,713.34 L963.87,713.42 L965.40,713.50 L966.93,713.57 L968.46,713.64 L969.99,713.70 L971.52,713.76 L973.05,713.82 L974.58,713.87 L976.11,713.92 L977.64,713.97 L979.17,714.02 L980.70,714.06 L982.23,714.10 L983.76,714.14 L985.29,714.17 L986.82,714.20 L988.35,714.23 L989.88,714.26 L991.41,714.29 L992.94,714.32 L994.48,714.34 L996.01,714.36 L997.54,714.38 L999.07,714.40 L1000.60,714.42 L1002.13,714.44 L1003.66,714.46 L1005.19,714.47 L1006.72,714.49 L1008.25,714.50 L1009.78,714.51 L1011.31,714.53 L1012.84,714.54 L1014.37,714.55 L1015.90,714.56 L1017.43,714.57 L1018.96,714.57 L1020.49,714.58 L1022.02,714.59 L1023.55,714.60 L1025.09,714.60 L1026.62,714.61 L1028.15,714.62 L1029.68,714.62 L1031.21,714.63 L1032.74,714.63 L1034.27,714.64 L1035.80,714.64 L1037.33,714.64 L1038.86,714.65 L1040.39,714.65 L1041.92,714.65 L1043.45,714.66 L1044.98,714.66 L1046.51,714.66 L1048.04,714.66 L1049.57,714.67 L1051.10,714.67 L1052.63,714.67 L1054.16,714.67 L1055.69,714.67 L1057.23,714.68 L1058.76,714.68 L1060.29,714.68 L1061.82,714.68 L1063.35,714.68 L1064.88,714.68 L1066.41,714.68 L1067.94,714.69 L1069.47,714.69 L1071.00,714.69" fill="none" stroke="#DE8C00" stroke-width="7.2" stroke-linejoin="round" stroke-dasharray="23 5.8"/>
<path d="M764.90,508.07 L766.43,512.81 L767.96,516.79 L769.49,520.14 L771.02,522.95 L772.55,525.29 L774.08,527.22 L775.61,528.80 L777.14,530.07 L778.67,531.07 L780.20,531.81 L781.74,532.34 L783.27,532.66 L784.80,532.80 L786.33,532.78 L787.86,532.60 L789.39,532.29 L790.92,531.84 L792.45,531.28 L793.98,530.60 L795.51,529.82 L797.04,528.94 L798.57,527.98 L800.10,526.92 L801.63,525.79 L803.16,524.58 L804.69,523.30 L806.22,521.95 L807.75,520.54 L809.28,519.07 L810.81,517.54 L812.35,515.96 L813.88,514.33 L815.41,512.65 L816.94,510.93 L818.47,509.16 L820.00,507.36 L821.53,505.52 L823.06,503.65 L824.59,501.75 L826.12,499.82 L827.65,497.87 L829.18,495.89 L830.71,493.90 L832.24,491.89 L833.77,489.86 L835.30,487.83 L836.83,485.79 L838.36,483.74 L839.89,481.69 L841.42,479.64 L842.96,477.59 L844.49,475.54 L846.02,473.51 L847.55,471.48 L849.08,469.47 L850.61,467.48 L852.14,465.50 L853.67,463.54 L855.20,461.61 L856.73,459.69 L858.26,457.81 L859.79,455.95 L861.32,454.13 L862.85,452.33 L864.38,450.57 L865.91,448.84 L867.44,447.15 L868.97,445.50 L870.50,443.88 L872.03,442.31 L873.57,440.77 L875.10,439.28 L876.63,437.82 L878.16,436.41 L879.69,435.04 L881.22,433.71 L882.75,432.42 L884.28,431.17 L885.81,429.97 L887.34,428.80 L888.87,427.68 L890.40,426.60 L891.93,425.56 L893.46,424.56 L894.99,423.59 L896.52,422.67 L898.05,421.78 L899.58,420.93 L901.11,420.11 L902.64,419.33 L904.18,418.58 L905.71,417.87 L907.24,417.18 L908.77,416.53 L910.30,415.91 L911.83,415.31 L913.36,414.75 L914.89,414.21 L916.42,413.69 L917.95,413.21 L919.48,412.74 L921.01,412.30 L922.54,411.88 L924.07,411.48 L925.60,411.10 L927.13,410.75 L928.66,410.41 L930.19,410.08 L931.72,409.78 L933.25,409.49 L934.79,409.22 L936.32,408.96 L937.85,408.71 L939.38,408.48 L940.91,408.26 L942.44,408.06 L943.97,407.86 L945.50,407.68 L947.03,407.51 L948.56,407.34 L950.09,407.19 L951.62,407.04 L953.15,406.90 L954.68,406.77 L956.21,406.65 L957.74,406.54 L959.27,406.43 L960.80,406.33 L962.33,406.23 L963.87,406.14 L965.40,406.05 L966.93,405.97 L968.46,405.90 L969.99,405.83 L971.52,405.76 L973.05,405.70 L974.58,405.64 L976.11,405.58 L977.64,405.53 L979.17,405.48 L980.70,405.44 L982.23,405.40 L983.76,405.35 L985.29,405.32 L986.82,405.28 L988.35,405.25 L989.88,405.22 L991.41,405.19 L992.94,405.16 L994.48,405.13 L996.01,405.11 L997.54,405.09 L999.07,405.06 L1000.60,405.04 L1002.13,405.03 L1003.66,405.01 L1005.19,404.99 L1006.72,404.98 L1008.25,404.96 L1009.78,404.95 L1011.31,404.94 L1012.84,404.92 L1014.37,404.91 L1015.90,404.90 L1017.43,404.89 L1018.96,404.88 L1020.49,404.87 L1022.02,404.87 L1023.55,404.86 L1025.09,404.85 L1026.62,404.85 L1028.15,404.84 L1029.68,404.83 L1031.21,404.83 L1032.74,404.82 L1034.27,404.82 L1035.80,404.81 L1037.33,404.81 L1038.86,404.81 L1040.39,404.80 L1041.92,404.80 L1043.45,404.80 L1044.98,404.79 L1046.51,404.79 L1048.04,404.79 L1049.57,404.78 L1051.10,404.78 L1052.63,404.78 L1054.16,404.78 L1055.69,404.78 L1057.23,404.77 L1058.76,404.77 L1060.29,404.77 L1061.82,404.77 L1063.35,404.77 L1064.88,404.77 L1066.41,404.77 L1067.94,404.77 L1069.47,404.76 L1071.00,404.76" fill="none" stroke="#619CFF" stroke-width="3.0" stroke-linejoin="round"/>
<path d="M764.90,508.07 L766.43,512.81 L767.96,516.79 L769.49,520.14 L771.02,522.95 L772.55,525.29 L774.08,527.22 L775.61,528.80 L777.14,530.07 L778.67,531.07 L780.20,531.81 L781.74,532.34 L783.27,532.66 L784.80,532.80 L786.33,532.78 L787.86,532.60 L789.39,532.29 L790.92,531.84 L792.45,531.28 L793.98,530.60 L795.51,529.82 L797.04,528.94 L798.57,527.98 L800.10,526.92 L801.63,525.79 L803.16,524.58 L804.69,523.30 L806.22,521.95 L807.75,520.54 L809.28,519.07 L810.81,517.54 L812.35,515.96 L813.88,514.33 L815.41,512.65 L816.94,510.93 L818.47,509.16 L820.00,507.36 L821.53,505.52 L823.06,503.65 L824.59,501.75 L826.12,499.82 L827.65,497.87 L829.18,495.89 L830.71,493.90 L832.24,491.89 L833.77,489.86 L835.30,487.83 L836.83,485.79 L838.36,483.74 L839.89,481.69 L841.42,479.64 L842.96,477.59 L844.49,475.54 L846.02,473.51 L847.55,471.48 L849.08,469.47 L850.61,467.48 L852.14,465.50 L853.67,463.54 L855.20,461.61 L856.73,459.69 L858.26,457.81 L859.79,455.95 L861.32,454.13 L862.85,452.33 L864.38,450.57 L865.91,448.84 L867.44,447.15 L868.97,445.50 L870.50,443.88 L872.03,442.31 L873.57,440.77 L875.10,439.28 L876.63,437.82 L878.16,436.41 L879.69,435.04 L881.22,433.71 L882.75,432.42 L884.28,431.17 L885.81,429.97 L887.34,428.80 L888.87,427.68 L890.40,426.60 L891.93,425.56 L893.46,424.56 L894.99,423.59 L896.52,422.67 L898.05,421.78 L899.58,420.93 L901.11,420.11 L902.64,419.33 L904.18,418.58 L905.71,417.87 L907.24,417.18 L908.77,416.53 L910.30,415.91 L911.83,415.31 L913.36,414.75 L914.89,414.21 L916.42,413.69 L917.95,413.21 L919.48,412.74 L921.01,412.30 L922.54,411.88 L924.07,411.48 L925.60,411.10 L927.13,410.75 L928.66,410.41 L930.19,410.08 L931.72,409.78 L933.25,409.49 L934.79,409.22 L936.32,408.96 L937.85,408.71 L939.38,408.48 L940.91,408.26 L942.44,408.06 L943.97,407.86 L945.50,407.68 L947.03,407.51 L948.56,407.34 L950.09,407.19 L951.62,407.04 L953.15,406.90 L954.68,406.77 L956.21,406.65 L957.74,406.54 L959.27,406.43 L960.80,406.33 L962.33,406.23 L963.87,406.14 L965.40,406.05 L966.93,405.97 L968.46,405.90 L969.99,405.83 L971.52,405.76 L973.05,405.70 L974.58,405.64 L976.11,405.58 L977.64,405.53 L979.17,405.48 L980.70,405.44 L982.23,405.40 L983.76,405.35 L985.29,405.32 L986.82,405.28 L988.35,405.25 L989.88,405.22 L991.41,405.19 L992.94,405.16 L994.48,405.13 L996.01,405.11 L997.54,405.09 L999.07,405.06 L1000.60,405.04 L1002.13,405.03 L1003.66,405.01 L1005.19,404.99 L1006.72,404.98 L1008.25,404.96 L1009.78,404.95 L1011.31,404.94 L1012.84,404.92 L1014.37,404.91 L1015.90,404.90 L1017.43,404.89 L1018.96,404.88 L1020.49,404.87 L1022.02,404.87 L1023.55,404.86 L1025.09,404.85 L1026.62,404.85 L1028.15,404.84 L1029.68,404.83 L1031.21,404.83 L1032.74,404.82 L1034.27,404.82 L1035.80,404.81 L1037.33,404.81 L1038.86,404.81 L1040.39,404.80 L1041.92,404.80 L1043.45,404.80 L1044.98,404.79 L1046.51,404.79 L1048.04,404.79 L1049.57,404.78 L1051.10,404.78 L1052.63,404.78 L1054.16,404.78 L1055.69,404.78 L1057.23,404.77 L1058.76,404.77 L1060.29,404.77 L1061.82,404.77 L1063.35,404.77 L1064.88,404.77 L1066.41,404.77 L1067.94,404.77 L1069.47,404.76 L1071.00,404.76" fill="none" stroke="#DE8C00" stroke-width="8.4" stroke-linejoin="round" stroke-dasharray="26.3 4.6"/>
<rect x="750.0" y="389.9" width="336.5" height="340.2" fill="none" stroke="#7F7F7F" stroke-width="2.2"/>
<path d="M1086.75,388.79999999999995 V731.5999999999999 M748.9,730.3499999999999 H1088.1" fill="none" stroke="#7F7F7F" stroke-width="2.7"/>
<line x1="764.90" x2="764.90" y1="730.9999999999999" y2="740.0999999999999" stroke="#000" stroke-width="2.8"/>
<text transform="translate(764.90,766.10) scale(1,1.045)" text-anchor="middle" font-size="27.3" font-family="Liberation Sans, Arial, Helvetica, sans-serif">0</text>
<line x1="826.12" x2="826.12" y1="730.9999999999999" y2="740.0999999999999" stroke="#000" stroke-width="2.8"/>
<text transform="translate(826.12,766.10) scale(1,1.045)" text-anchor="middle" font-size="27.3" font-family="Liberation Sans, Arial, Helvetica, sans-serif">1</text>
<line x1="887.34" x2="887.34" y1="730.9999999999999" y2="740.0999999999999" stroke="#000" stroke-width="2.8"/>
<text transform="translate(887.34,766.10) scale(1,1.045)" text-anchor="middle" font-size="27.3" font-family="Liberation Sans, Arial, Helvetica, sans-serif">2</text>
<line x1="948.56" x2="948.56" y1="730.9999999999999" y2="740.0999999999999" stroke="#000" stroke-width="2.8"/>
<text transform="translate(948.56,766.10) scale(1,1.045)" text-anchor="middle" font-size="27.3" font-family="Liberation Sans, Arial, Helvetica, sans-serif">3</text>
<line x1="1009.78" x2="1009.78" y1="730.9999999999999" y2="740.0999999999999" stroke="#000" stroke-width="2.8"/>
<text transform="translate(1009.78,766.10) scale(1,1.045)" text-anchor="middle" font-size="27.3" font-family="Liberation Sans, Arial, Helvetica, sans-serif">4</text>
<line x1="1071.00" x2="1071.00" y1="730.9999999999999" y2="740.0999999999999" stroke="#000" stroke-width="2.8"/>
<text transform="translate(1071.00,766.10) scale(1,1.045)" text-anchor="middle" font-size="27.3" font-family="Liberation Sans, Arial, Helvetica, sans-serif">5</text>
<line y1="714.70" y2="714.70" x1="739.5" x2="749.1" stroke="#000" stroke-width="2.8"/>
<text transform="translate(733.50,724.60) scale(1,1.045)" text-anchor="end" font-size="27.3" font-family="Liberation Sans, Arial, Helvetica, sans-serif">0</text>
<line y1="611.38" y2="611.38" x1="739.5" x2="749.1" stroke="#000" stroke-width="2.8"/>
<text transform="translate(733.50,621.28) scale(1,1.045)" text-anchor="end" font-size="27.3" font-family="Liberation Sans, Arial, Helvetica, sans-serif">1</text>
<line y1="508.07" y2="508.07" x1="739.5" x2="749.1" stroke="#000" stroke-width="2.8"/>
<text transform="translate(733.50,517.97) scale(1,1.045)" text-anchor="end" font-size="27.3" font-family="Liberation Sans, Arial, Helvetica, sans-serif">2</text>
<line y1="404.75" y2="404.75" x1="739.5" x2="749.1" stroke="#000" stroke-width="2.8"/>
<text transform="translate(733.50,414.65) scale(1,1.045)" text-anchor="end" font-size="27.3" font-family="Liberation Sans, Arial, Helvetica, sans-serif">3</text>
<text transform="translate(918.25,798.70) scale(1,1.045)" text-anchor="middle" font-size="34.3" font-family="Liberation Sans, Arial, Helvetica, sans-serif">Time (AU)</text>
<text transform="translate(710.60,560.00) rotate(-90) scale(1,1.045)" text-anchor="middle" font-size="34.3" font-family="Liberation Sans, Arial, Helvetica, sans-serif">Concentration (AU)</text>
<rect x="1124.90" y="446.00" width="39.4" height="39.4" fill="#fff" stroke="#CCCCCC" stroke-width="2.5"/>
<rect x="1124.90" y="485.40" width="39.4" height="39.4" fill="#fff" stroke="#CCCCCC" stroke-width="2.5"/>
<rect x="1124.90" y="524.80" width="39.4" height="39.4" fill="#fff" stroke="#CCCCCC" stroke-width="2.5"/>
<rect x="1124.90" y="564.20" width="39.4" height="39.4" fill="#fff" stroke="#CCCCCC" stroke-width="2.5"/>
<rect x="1124.90" y="603.60" width="39.4" height="39.4" fill="#fff" stroke="#CCCCCC" stroke-width="2.5"/>
<rect x="1124.90" y="643.00" width="39.4" height="39.4" fill="#fff" stroke="#CCCCCC" stroke-width="2.5"/>
<line x1="1128.90" x2="1160.30" y1="465.70" y2="465.70" stroke="#DE8C00" stroke-width="8.0" stroke-dasharray="16.1 7.4"/>
<text transform="translate(1168.70,475.70) scale(1,1.045)" font-size="27.3" font-family="Liberation Sans, Arial, Helvetica, sans-serif">x0</text>
<line x1="1128.90" x2="1160.30" y1="505.10" y2="505.10" stroke="#DE8C00" stroke-width="6.5" stroke-dasharray="17.8 5.7"/>
<text transform="translate(1168.70,515.10) scale(1,1.045)" font-size="27.3" font-family="Liberation Sans, Arial, Helvetica, sans-serif">x1</text>
<line x1="1128.90" x2="1160.30" y1="544.50" y2="544.50" stroke="#DE8C00" stroke-width="3.6"/>
<text transform="translate(1168.70,554.50) scale(1,1.045)" font-size="27.3" font-family="Liberation Sans, Arial, Helvetica, sans-serif">x2</text>
<line x1="1128.90" x2="1160.30" y1="583.90" y2="583.90" stroke="#619CFF" stroke-width="9" stroke-dasharray="17.2 8.2"/>
<text transform="translate(1168.70,593.90) scale(1,1.045)" font-size="27.3" font-family="Liberation Sans, Arial, Helvetica, sans-serif">y0</text>
<line x1="1128.90" x2="1160.30" y1="623.30" y2="623.30" stroke="#619CFF" stroke-width="5"/>
<text transform="translate(1168.70,633.30) scale(1,1.045)" font-size="27.3" font-family="Liberation Sans, Arial, Helvetica, sans-serif">y1</text>
<line x1="1128.90" x2="1160.30" y1="662.70" y2="662.70" stroke="#619CFF" stroke-width="2.4"/>
<text transform="translate(1168.70,672.70) scale(1,1.045)" font-size="27.3" font-family="Liberation Sans, Arial, Helvetica, sans-serif">y2</text>
<rect x="1227.40" y="446.00" width="39.4" height="39.4" fill="#fff" stroke="#CCCCCC" stroke-width="2.5"/>
<rect x="1227.40" y="485.40" width="39.4" height="39.4" fill="#fff" stroke="#CCCCCC" stroke-width="2.5"/>
<rect x="1227.40" y="524.80" width="39.4" height="39.4" fill="#fff" stroke="#CCCCCC" stroke-width="2.5"/>
<rect x="1227.40" y="564.20" width="39.4" height="39.4" fill="#fff" stroke="#CCCCCC" stroke-width="2.5"/>
<rect x="1227.40" y="603.60" width="39.4" height="39.4" fill="#fff" stroke="#CCCCCC" stroke-width="2.5"/>
<rect x="1227.40" y="643.00" width="39.4" height="39.4" fill="#fff" stroke="#CCCCCC" stroke-width="2.5"/>
<line x1="1231.40" x2="1262.80" y1="465.70" y2="465.70" stroke="#DE8C00" stroke-width="8.0" stroke-dasharray="16.1 7.4"/>
<text transform="translate(1271.60,475.70) scale(1,1.045)" font-size="27.3" font-family="Liberation Sans, Arial, Helvetica, sans-serif">r0</text>
<line x1="1231.40" x2="1262.80" y1="505.10" y2="505.10" stroke="#DE8C00" stroke-width="6.5" stroke-dasharray="17.8 5.7"/>
<text transform="translate(1271.60,515.10) scale(1,1.045)" font-size="27.3" font-family="Liberation Sans, Arial, Helvetica, sans-serif">r1</text>
<line x1="1231.40" x2="1262.80" y1="544.50" y2="544.50" stroke="#DE8C00" stroke-width="3.6"/>
<text transform="translate(1271.60,554.50) scale(1,1.045)" font-size="27.3" font-family="Liberation Sans, Arial, Helvetica, sans-serif">r2</text>
<line x1="1231.40" x2="1262.80" y1="583.90" y2="583.90" stroke="#619CFF" stroke-width="9" stroke-dasharray="17.2 8.2"/>
<text transform="translate(1271.60,593.90) scale(1,1.045)" font-size="27.3" font-family="Liberation Sans, Arial, Helvetica, sans-serif">s0</text>
<line x1="1231.40" x2="1262.80" y1="623.30" y2="623.30" stroke="#619CFF" stroke-width="5"/>
<text transform="translate(1271.60,633.30) scale(1,1.045)" font-size="27.3" font-family="Liberation Sans, Arial, Helvetica, sans-serif">s1</text>
<line x1="1231.40" x2="1262.80" y1="662.70" y2="662.70" stroke="#619CFF" stroke-width="4"/>
<text transform="translate(1271.60,672.70) scale(1,1.045)" font-size="27.3" font-family="Liberation Sans, Arial, Helvetica, sans-serif">s2</text>
</svg></body></html>
